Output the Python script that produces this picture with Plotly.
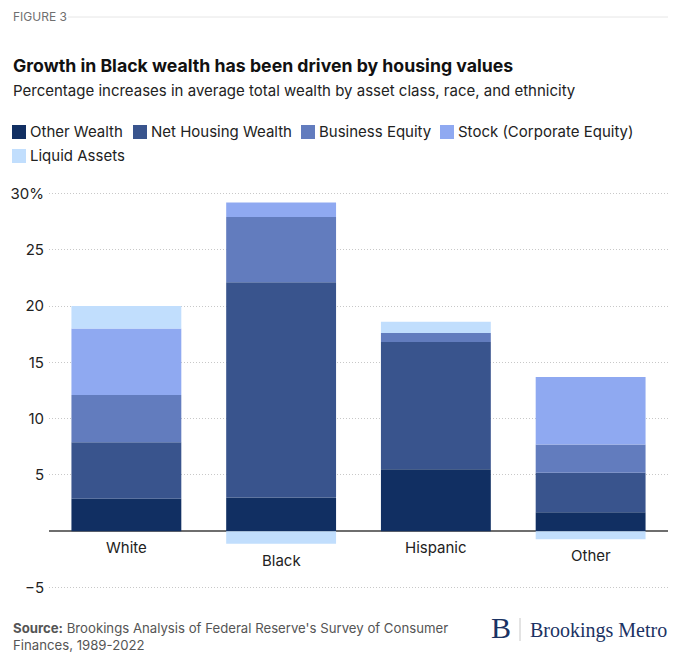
import plotly.graph_objects as go

# ---------------- data ----------------
categories = ["White", "Black", "Hispanic", "Other"]
series_names = ["Other Wealth", "Net Housing Wealth", "Business Equity",
                "Stock (Corporate Equity)", "Liquid Assets"]
other_wealth = [2.9, 3.0, 5.5, 1.7]
net_housing_wealth = [5.0, 19.1, 11.3, 3.5]
business_equity = [4.2, 5.8, 0.8, 2.5]
stock_corporate_equity = [5.9, 1.3, 0.0, 6.0]
liquid_assets = [2.0, -1.1, 1.0, -0.7]
y_tickvals = [-5, 0, 5, 10, 15, 20, 25, 30]
y_ticktext = ["\u22125", "", "5", "10", "15", "20", "25", "30%"]

series_values = [other_wealth, net_housing_wealth, business_equity,
                 stock_corporate_equity, liquid_assets]
colors = ["#112f62", "#39548d", "#627cbe", "#8fa9f1", "#c1defd"]

# ---------------- layout geometry ----------------
W, H = 681, 660
L, R, T, B = 49, 13, 190, 69
PW, PH = W - L - R, H - T - B
PADX = 0  # annotation inner padding compensation


def px(x):
    return (x - L) / PW


def py(y):
    return (H - B - y) / PH


FONT = "Inter, Roboto, sans-serif"
TXT = "#222222"

fig = go.Figure()
for name, vals, col in zip(series_names, series_values, colors):
    fig.add_trace(go.Bar(x=categories, y=vals, name=name, marker_color=col,
                         marker_line_width=0, showlegend=False))

annotations = []
shapes = []


def text_at(text, x, y, size, color=TXT, family=FONT, xanchor="left", **kw):
    xx = x - PADX if xanchor == "left" else (x + PADX if xanchor == "right" else x)
    annotations.append(dict(text=text, x=px(xx), y=py(y), xref="paper", yref="paper",
                            xanchor=xanchor, yanchor="middle", showarrow=False,
                            borderpad=0, font=dict(family=family, size=size, color=color), **kw))


# header
text_at("FIGURE 3", 12, 17, 12, color="#6f6f6f")
shapes.append(dict(type="line", xref="paper", yref="paper", x0=px(68), x1=px(668),
                   y0=py(17), y1=py(17), line=dict(color="#e6e6e6", width=1)))
text_at("<b>Growth in Black wealth has been driven by housing values</b>", 12, 66, 17.7,
        color="#111111")
text_at("Percentage increases in average total wealth by asset class, race, and ethnicity",
        12, 91, 15)

# legend (manual)
legend_pos = [(12, 132), (133, 132), (301, 132), (440, 132), (12, 156)]
for (lx, ly), name, col in zip(legend_pos, series_names, colors):
    shapes.append(dict(type="rect", xref="paper", yref="paper",
                       x0=px(lx), x1=px(lx + 14), y0=py(ly - 7), y1=py(ly + 7),
                       fillcolor=col, line=dict(width=0)))
    text_at(name, lx + 17, ly, 15)

# category labels below each bar's lowest point
for i, cat in enumerate(categories):
    neg = sum(v[i] for v in series_values if v[i] < 0)
    annotations.append(dict(text=cat, x=cat, y=neg, xref="x", yref="y",
                            xanchor="center", yanchor="top", yshift=-5, showarrow=False,
                            font=dict(family=FONT, size=15, color=TXT)))

# footer
text_at("<b>Source:</b> Brookings Analysis of Federal Reserve's Survey of Consumer<br>Finances, 1989-2022",
        12, 636, 13.2, color="#555555", align="left")
text_at("B", 501, 627, 30, color="#1b3263", family="Liberation Serif, serif", xanchor="center")
shapes.append(dict(type="line", xref="paper", yref="paper", x0=px(520), x1=px(520),
                   y0=py(618), y1=py(641), line=dict(color="#c8c8c8", width=1)))
text_at("Brookings Metro", 668, 630, 20, color="#1b3263", family="Liberation Serif, serif",
        xanchor="right")

fig.update_layout(
    width=W, height=H,
    margin=dict(l=L, r=R, t=T, b=B, pad=0, autoexpand=False),
    paper_bgcolor="white", plot_bgcolor="white",
    barmode="relative", bargap=0.29,
    showlegend=False,
    annotations=annotations, shapes=shapes,
    font=dict(family=FONT, size=15, color=TXT),
    xaxis=dict(showticklabels=False, showgrid=False, showline=False, zeroline=False,
               ticks="", automargin=False),
    yaxis=dict(range=[-5.3, 30.3], tickvals=y_tickvals, ticktext=y_ticktext,
               showgrid=True, gridcolor="#c8c8c8", griddash="1px,2px", gridwidth=1,
               zeroline=True, zerolinecolor="#6e6e6e", zerolinewidth=1.5,
               showline=False, ticks="", ticklabelstandoff=4, automargin=False,
               tickfont=dict(family=FONT, size=15, color=TXT)),
)

fig.write_html("out.html")
